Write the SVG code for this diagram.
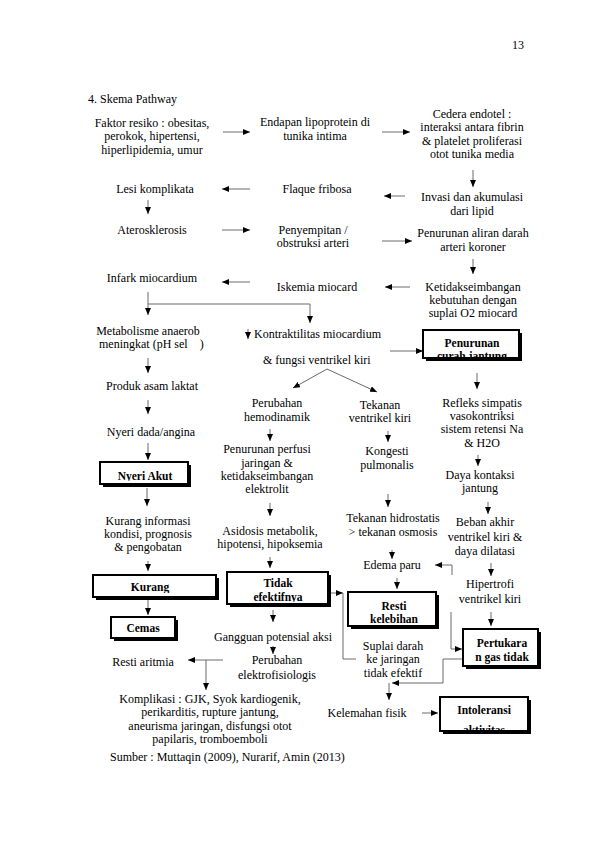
<svg xmlns="http://www.w3.org/2000/svg" width="595" height="842" viewBox="0 0 595 842">
<style>
text{font-family:"Liberation Serif","Times New Roman",serif;font-size:12px;fill:#000}
.c{text-anchor:middle}
.b{font-weight:bold;font-size:11.5px}
.ln{fill:none;stroke:#6a6a6a;stroke-width:1}
.ar{fill:none;stroke:#6a6a6a;stroke-width:1;marker-end:url(#ah)}
.sh{fill:#000}
.bx{fill:#fff;stroke:#000;stroke-width:2}
</style>
<defs>
<marker id="ah" markerUnits="userSpaceOnUse" markerWidth="8" markerHeight="6" refX="7" refY="3" orient="auto"><path d="M0,0 L7,3 L0,6 z" fill="#000"/></marker>
<clipPath id="cPen"><rect x="424" y="331" width="94" height="26"/></clipPath>
<clipPath id="cNye"><rect x="101" y="463" width="86" height="18"/></clipPath>
<clipPath id="cKur"><rect x="94" y="576" width="121" height="17"/></clipPath>
<clipPath id="cCem"><rect x="112" y="618" width="62" height="19"/></clipPath>
<clipPath id="cTid"><rect x="228" y="573" width="99" height="29"/></clipPath>
<clipPath id="cRes"><rect x="349" y="593" width="86" height="32"/></clipPath>
<clipPath id="cPer"><rect x="464" y="630" width="73" height="35"/></clipPath>
<clipPath id="cInt"><rect x="441" y="698" width="86" height="32"/></clipPath>
</defs>
<rect width="595" height="842" fill="#fff"/>
<text x="512" y="49">13</text>
<text x="88" y="103">4. Skema Pathway</text>

<g id="connectors">
<line class="ar" x1="223" y1="132" x2="250" y2="132"/>
<line class="ar" x1="382" y1="132" x2="410" y2="132"/>
<line class="ar" x1="473" y1="170" x2="473" y2="187"/>
<line class="ar" x1="405" y1="196" x2="384" y2="196"/>
<line class="ar" x1="250" y1="189" x2="222" y2="189"/>
<line class="ar" x1="148" y1="200" x2="148" y2="214"/>
<line class="ar" x1="222" y1="230" x2="250" y2="230"/>
<line class="ar" x1="382" y1="241" x2="412" y2="241"/>
<line class="ar" x1="473" y1="259" x2="473" y2="274"/>
<line class="ar" x1="410" y1="287" x2="385" y2="287"/>
<line class="ar" x1="250" y1="282" x2="222" y2="282"/>
<line class="ar" x1="148" y1="292" x2="148" y2="315"/>
<polyline class="ar" points="148,304 310,304 310,323"/>
<line class="ar" x1="248" y1="329" x2="248" y2="339"/>
<line class="ar" x1="390" y1="351" x2="423" y2="351"/>
<line class="ar" x1="148" y1="358" x2="148" y2="373"/>
<line class="ar" x1="148" y1="400" x2="148" y2="414"/>
<line class="ar" x1="148" y1="443" x2="148" y2="460"/>
<line class="ar" x1="147" y1="488" x2="147" y2="506"/>
<line class="ar" x1="148" y1="561" x2="148" y2="571"/>
<line class="ar" x1="148" y1="600" x2="148" y2="615"/>
<line class="ar" x1="327" y1="369" x2="293" y2="388"/>
<line class="ar" x1="327" y1="369" x2="377" y2="392"/>
<line class="ar" x1="270" y1="429" x2="270" y2="441"/>
<line class="ar" x1="388" y1="431" x2="388" y2="442"/>
<line class="ar" x1="388" y1="494" x2="388" y2="507"/>
<line class="ar" x1="270" y1="503" x2="270" y2="516"/>
<line class="ar" x1="392" y1="550" x2="392" y2="559"/>
<line class="ar" x1="270" y1="557" x2="270" y2="568"/>
<line class="ar" x1="330" y1="593" x2="343" y2="593"/>
<polyline class="ln" points="343,593 343,659 356,659"/>
<line class="ar" x1="273" y1="610" x2="273" y2="622"/>
<line class="ar" x1="273" y1="646" x2="273" y2="654"/>
<line class="ar" x1="223" y1="660" x2="188" y2="660"/>
<line class="ar" x1="206" y1="660" x2="206" y2="690"/>
<line class="ar" x1="477" y1="373" x2="477" y2="389"/>
<line class="ar" x1="478" y1="455" x2="478" y2="466"/>
<line class="ar" x1="488" y1="502" x2="488" y2="514"/>
<line class="ar" x1="491" y1="563" x2="491" y2="576"/>
<line class="ar" x1="491" y1="612" x2="491" y2="626"/>
<polyline class="ar" points="452,575 452,565 435,565"/>
<line class="ar" x1="397" y1="578" x2="397" y2="589"/>
<polyline class="ar" points="451,612 451,649 462,649"/>
<polyline class="ar" points="463,659 443,659 443,683 392,683"/>
<line class="ar" x1="389" y1="683" x2="389" y2="700"/>
<line class="ar" x1="422" y1="713" x2="438" y2="713"/>
</g>

<g id="n-faktor"><text class="c" x="152" y="126.5">Faktor resiko : obesitas,</text><text class="c" x="152" y="140">perokok, hipertensi,</text><text class="c" x="152" y="153.5">hiperlipidemia, umur</text></g>
<g id="n-endapan"><text class="c" x="315" y="126.3">Endapan lipoprotein di</text><text class="c" x="315" y="139.7">tunika intima</text></g>
<g id="n-cedera"><text class="c" x="472" y="118">Cedera endotel :</text><text class="c" x="472" y="131.4">interaksi antara fibrin</text><text class="c" x="472" y="144.8">&amp; platelet proliferasi</text><text class="c" x="472" y="158.2">otot tunika media</text></g>
<g id="n-invasi"><text class="c" x="472" y="201.3">Invasi dan akumulasi</text><text class="c" x="472" y="214.7">dari lipid</text></g>
<g id="n-flaque"><text class="c" x="317" y="193">Flaque fribosa</text></g>
<g id="n-lesi"><text class="c" x="155" y="193">Lesi komplikata</text></g>
<g id="n-atero"><text class="c" x="152" y="234">Aterosklerosis</text></g>
<g id="n-penyempitan"><text class="c" x="313" y="233.8">Penyempitan /</text><text class="c" x="313" y="247.2">obstruksi arteri</text></g>
<g id="n-aliran"><text class="c" x="473" y="237">Penurunan aliran darah</text><text class="c" x="473" y="251">arteri koroner</text></g>
<g id="n-ketidak"><text class="c" x="473" y="290.6">Ketidakseimbangan</text><text class="c" x="473" y="304">kebutuhan dengan</text><text class="c" x="473" y="317.4">suplai O2 miocard</text></g>
<g id="n-iskemia"><text class="c" x="317" y="291">Iskemia miocard</text></g>
<g id="n-infark"><text class="c" x="152" y="282">Infark miocardium</text></g>
<g id="n-metabolisme"><text class="c" x="148" y="334.8">Metabolisme anaerob</text><text x="99" y="348.2" xml:space="preserve">meningkat (pH sel    )</text></g>
<g id="n-kontraktilitas"><text x="254" y="338">Kontraktilitas miocardium</text><text x="263" y="364">&amp; fungsi ventrikel kiri</text></g>
<g id="n-penurunan-curah"><rect class="sh" x="426" y="333" width="96" height="28"/><rect class="bx" x="423" y="330" width="96" height="28"/><g clip-path="url(#cPen)"><text class="c b" x="472" y="347">Penurunan</text><text class="c b" x="472" y="360">curah jantung</text></g></g>
<g id="n-produk"><text class="c" x="152" y="390">Produk asam laktat</text></g>
<g id="n-nyeri-dada"><text class="c" x="151" y="436">Nyeri dada/angina</text></g>
<g id="n-nyeri-akut"><rect class="sh" x="103" y="465" width="88" height="22"/><rect class="bx" x="100" y="462" width="88" height="22"/><g clip-path="url(#cNye)"><text class="c b" x="145" y="480">Nyeri  Akut</text></g></g>
<g id="n-kurang-info"><text class="c" x="148" y="524.6">Kurang informasi</text><text class="c" x="148" y="538">kondisi, prognosis</text><text class="c" x="148" y="551.4">&amp; pengobatan</text></g>
<g id="n-kurang"><rect class="sh" x="96" y="578" width="123" height="22"/><rect class="bx" x="93" y="575" width="123" height="22"/><g clip-path="url(#cKur)"><text class="c b" x="150" y="591">Kurang</text></g></g>
<g id="n-cemas"><rect class="sh" x="114" y="620" width="64" height="21"/><rect class="bx" x="111" y="617" width="64" height="21"/><g clip-path="url(#cCem)"><text class="c b" x="143" y="632">Cemas</text></g></g>
<g id="n-hemodinamik"><text class="c" x="277" y="407">Perubahan</text><text class="c" x="277" y="421">hemodinamik</text></g>
<g id="n-tekanan-vk"><text class="c" x="380" y="408.8">Tekanan</text><text class="c" x="380" y="422.2">ventrikel kiri</text></g>
<g id="n-perfusi"><text class="c" x="267" y="453.2">Penurunan perfusi</text><text class="c" x="267" y="466.6">jaringan &amp;</text><text class="c" x="267" y="480">ketidakseimbangan</text><text class="c" x="267" y="493.4">elektrolit</text></g>
<g id="n-kongesti"><text class="c" x="387" y="455.3">Kongesti</text><text class="c" x="387" y="468.7">pulmonalis</text></g>
<g id="n-hidrostatis"><text class="c" x="393" y="522">Tekanan hidrostatis</text><text class="c" x="393" y="536">&gt; tekanan osmosis</text></g>
<g id="n-asidosis"><text class="c" x="270" y="534.8">Asidosis metabolik,</text><text class="c" x="270" y="548.2">hipotensi, hipoksemia</text></g>
<g id="n-edema"><text class="c" x="392" y="569">Edema paru</text></g>
<g id="n-tidak"><rect class="sh" x="230" y="575" width="101" height="32"/><rect class="bx" x="227" y="572" width="101" height="32"/><g clip-path="url(#cTid)"><text class="c b" x="278" y="587">Tidak</text><text class="c b" x="278" y="601">efektifnya</text></g></g>
<g id="n-gangguan"><text class="c" x="273" y="641">Gangguan potensial aksi</text></g>
<g id="n-elektro"><text class="c" x="277" y="664">Perubahan</text><text class="c" x="277" y="679">elektrofisiologis</text></g>
<g id="n-aritmia"><text class="c" x="143" y="666">Resti aritmia</text></g>
<g id="n-komplikasi"><text class="c" x="210" y="702.9">Komplikasi : GJK, Syok kardiogenik,</text><text class="c" x="210" y="716.3">perikarditis, rupture jantung,</text><text class="c" x="210" y="729.7">aneurisma jaringan, disfungsi otot</text><text class="c" x="210" y="743.1">papilaris, tromboemboli</text></g>
<g id="n-refleks"><text class="c" x="482" y="406.6">Refleks simpatis</text><text class="c" x="482" y="420">vasokontriksi</text><text class="c" x="482" y="433.4">sistem retensi Na</text><text class="c" x="482" y="446.8">&amp; H2O</text></g>
<g id="n-daya"><text class="c" x="480" y="478.8">Daya kontaksi</text><text class="c" x="480" y="492.2">jantung</text></g>
<g id="n-beban"><text class="c" x="485" y="526">Beban akhir</text><text class="c" x="485" y="541">ventrikel kiri &amp;</text><text class="c" x="485" y="555">daya dilatasi</text></g>
<g id="n-hipertrofi"><text class="c" x="490" y="588">Hipertrofi</text><text class="c" x="490" y="603">ventrikel kiri</text></g>
<g id="n-resti"><rect class="sh" x="351" y="595" width="88" height="34"/><rect class="bx" x="348" y="592" width="88" height="34"/><g clip-path="url(#cRes)"><text class="c b" x="394" y="610">Resti</text><text class="c b" x="394" y="623">kelebihan</text></g></g>
<g id="n-pertukaran"><rect class="sh" x="466" y="632" width="75" height="37"/><rect class="bx" x="463" y="629" width="75" height="37"/><g clip-path="url(#cPer)"><text class="c b" x="502" y="647">Pertukara</text><text class="c b" x="502" y="661">n gas tidak</text><text class="c b" x="502" y="675">efektif</text></g></g>
<g id="n-suplai"><text class="c" x="393" y="650">Suplai darah</text><text class="c" x="393" y="663.4">ke jaringan</text><text class="c" x="393" y="676.8">tidak efektif</text></g>
<g id="n-kelemahan"><text class="c" x="367" y="717">Kelemahan fisik</text></g>
<g id="n-intoleransi"><rect class="sh" x="443" y="700" width="88" height="34"/><rect class="bx" x="440" y="697" width="88" height="34"/><g clip-path="url(#cInt)"><text class="c b" x="484" y="714">Intoleransi</text><text class="c b" x="484" y="734">aktivitas</text></g></g>
<text x="110" y="761">Sumber : Muttaqin (2009), Nurarif, Amin (2013)</text>
</svg>
